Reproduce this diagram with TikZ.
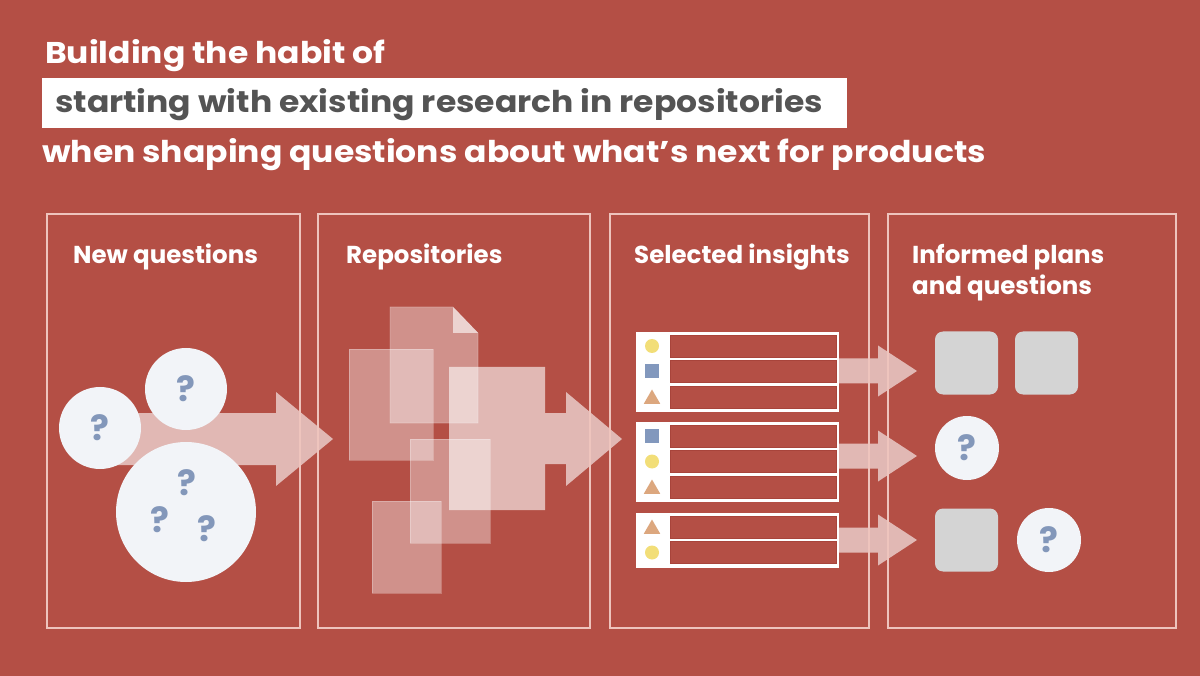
\documentclass[tikz,border=0pt]{standalone}
\usepackage{fontspec}
\setmainfont{Poppins}
\newfontfamily\widefont{Poppins}[FakeStretch=1.1]
\usetikzlibrary{positioning,shapes.geometric}

\definecolor{bgred}{HTML}{B44F45}
\definecolor{rowline}{HTML}{A8443B}
\definecolor{panelline}{HTML}{EEC4BD}
\definecolor{bubblewhite}{HTML}{F2F4F8}
\definecolor{qblue}{HTML}{8397BA}
\definecolor{tilegray}{HTML}{D4D4D4}
\definecolor{dotyellow}{HTML}{F2DE78}
\definecolor{sqblue}{HTML}{8298BD}
\definecolor{triorange}{HTML}{DCA77E}
\definecolor{titlegray}{HTML}{545454}

\tikzset{
  titleline/.style={anchor=base west, inner sep=0pt, text=white,
    font=\widefont\fontsize{30}{36}\selectfont\bfseries},
  heading/.style={anchor=base west, inner sep=0pt, text=white,
    font=\fontsize{24.5}{30}\selectfont\bfseries},
  panel/.style={draw=panelline, line width=2.2pt, inner sep=0pt,
    minimum height=414pt},
  bubble/.style={circle, fill=bubblewhite, inner sep=0pt},
  qmark/.style={inner sep=0pt, text=qblue,
    font=\fontsize{35}{35}\selectfont\bfseries},
  flow/.style={fill=white, fill opacity=0.6},
  sheet/.style={fill=white, fill opacity=0.38, draw=white, draw opacity=0.25,
    line width=0.6pt},
  tile/.style={fill=tilegray, rounded corners=8pt, minimum size=63pt,
    inner sep=0pt},
  card/.style={fill=white, anchor=north west, minimum width=203pt,
    inner sep=0pt},
  rowbar/.style={fill=bgred, draw=rowline, line width=0.6pt},
  dotmark/.style={circle, fill=dotyellow, minimum size=14pt, inner sep=0pt},
  sqmark/.style={fill=sqblue, minimum size=14pt, inner sep=0pt},
  trimark/.style={regular polygon, regular polygon sides=3, fill=triorange,
    minimum size=19pt, inner sep=0pt, yshift=-2pt},
}

\begin{document}
\begin{tikzpicture}[x=1pt, y=-1pt]
\useasboundingbox (0,0) rectangle (1200,676);
\fill[bgred] (0,0) rectangle (1200,676);

% title
\node[titleline] (title1) at (45,64) {Building the habit of};
\node[fill=white, anchor=north west, inner sep=0pt, minimum width=805pt,
  minimum height=50pt] (titlebox) at (42,78) {};
\node[titleline, text=titlegray] (title2) at (55,113)
  {starting with existing research in repositories};
\node[titleline] (title3) at (42,163)
  {when shaping questions about what’s next for products};

% new questions
\fill[flow] (100,413) -- (276,413) -- (276,392) -- (333,439) -- (276,486)
  -- (276,465) -- (100,465) -- cycle;
\node[bubble, minimum size=82pt] (qa) at (100,428) {};
\node[bubble, minimum size=82pt] (qb) at (186,389) {};
\node[bubble, minimum size=140pt] (qc) at (186,512) {};
\node[qmark] (qa1) at (qa) {?};
\node[qmark] (qb1) at (qb) {?};
\node[qmark] (qc1) at (187,483) {?};
\node[qmark] (qc2) at (160,520) {?};
\node[qmark] (qc3) at (207,529) {?};

% repositories
\fill[sheet] (390,307) -- (453,307) -- (478,333) -- (478,423) -- (390,423)
  -- cycle;
\fill[flow] (453,307) -- (478,333) -- (453,333) -- cycle;
\fill[sheet] (349,349) rectangle (433,460);
\fill[sheet] (410,439) rectangle (490,543);
\fill[sheet] (372,501) rectangle (441,593);
\fill[flow] (449,367) -- (545,367) -- (545,413) -- (566,413) -- (566,392)
  -- (622,439) -- (566,486) -- (566,464) -- (545,464) -- (545,510)
  -- (449,510) -- cycle;

% selected insights
\foreach \top/\rows/\marks [count=\g] in {332/3/{dotmark,sqmark,trimark},
    422/3/{sqmark,dotmark,trimark}, 513/2/{trimark,dotmark}} {
  \node[card, minimum height={\rows*25.5+3.5}] (card\g) at (636,\top) {};
  \foreach \m [count=\i from 0] in \marks {
    \draw[rowbar] (670,{\top+3+\i*25.5}) rectangle (836,{\top+25+\i*25.5});
    \node[\m] (mark\g\i) at (652,{\top+14+\i*25.5}) {};
  }
}
\foreach \y in {371,456,540}
  \fill[flow] (839,{\y-12.5}) -- (878,{\y-12.5}) -- (878,{\y-25.5})
    -- (917,\y) -- (878,{\y+25.5}) -- (878,{\y+12.5}) -- (839,{\y+12.5})
    -- cycle;

% informed plans and questions
\node[tile] (plan1) at (966.5,363) {};
\node[tile] (plan2) at (1046.5,363) {};
\node[tile] (plan3) at (966.5,540) {};
\node[bubble, minimum size=64pt] (qd) at (967,448) {};
\node[bubble, minimum size=64pt] (qe) at (1049,540) {};
\node[qmark] (qd1) at (qd) {?};
\node[qmark] (qe1) at (qe) {?};

% panels
\node[panel, minimum width=253pt] (newq) at (173.5,421) {};
\node[panel, minimum width=272pt] (repo) at (454,421) {};
\node[panel, minimum width=259pt] (insight) at (739.5,421) {};
\node[panel, minimum width=288pt] (plans) at (1032,421) {};
\node[heading] (newqhead) at (73,264) {New questions};
\node[heading] (repohead) at (346,264) {Repositories};
\node[heading] (insighthead) at (634,264) {Selected insights};
\node[heading] (planshead) at (912,264) {Informed plans};
\node[heading] (planshead2) at (912,295) {and questions};
\end{tikzpicture}
\end{document}
